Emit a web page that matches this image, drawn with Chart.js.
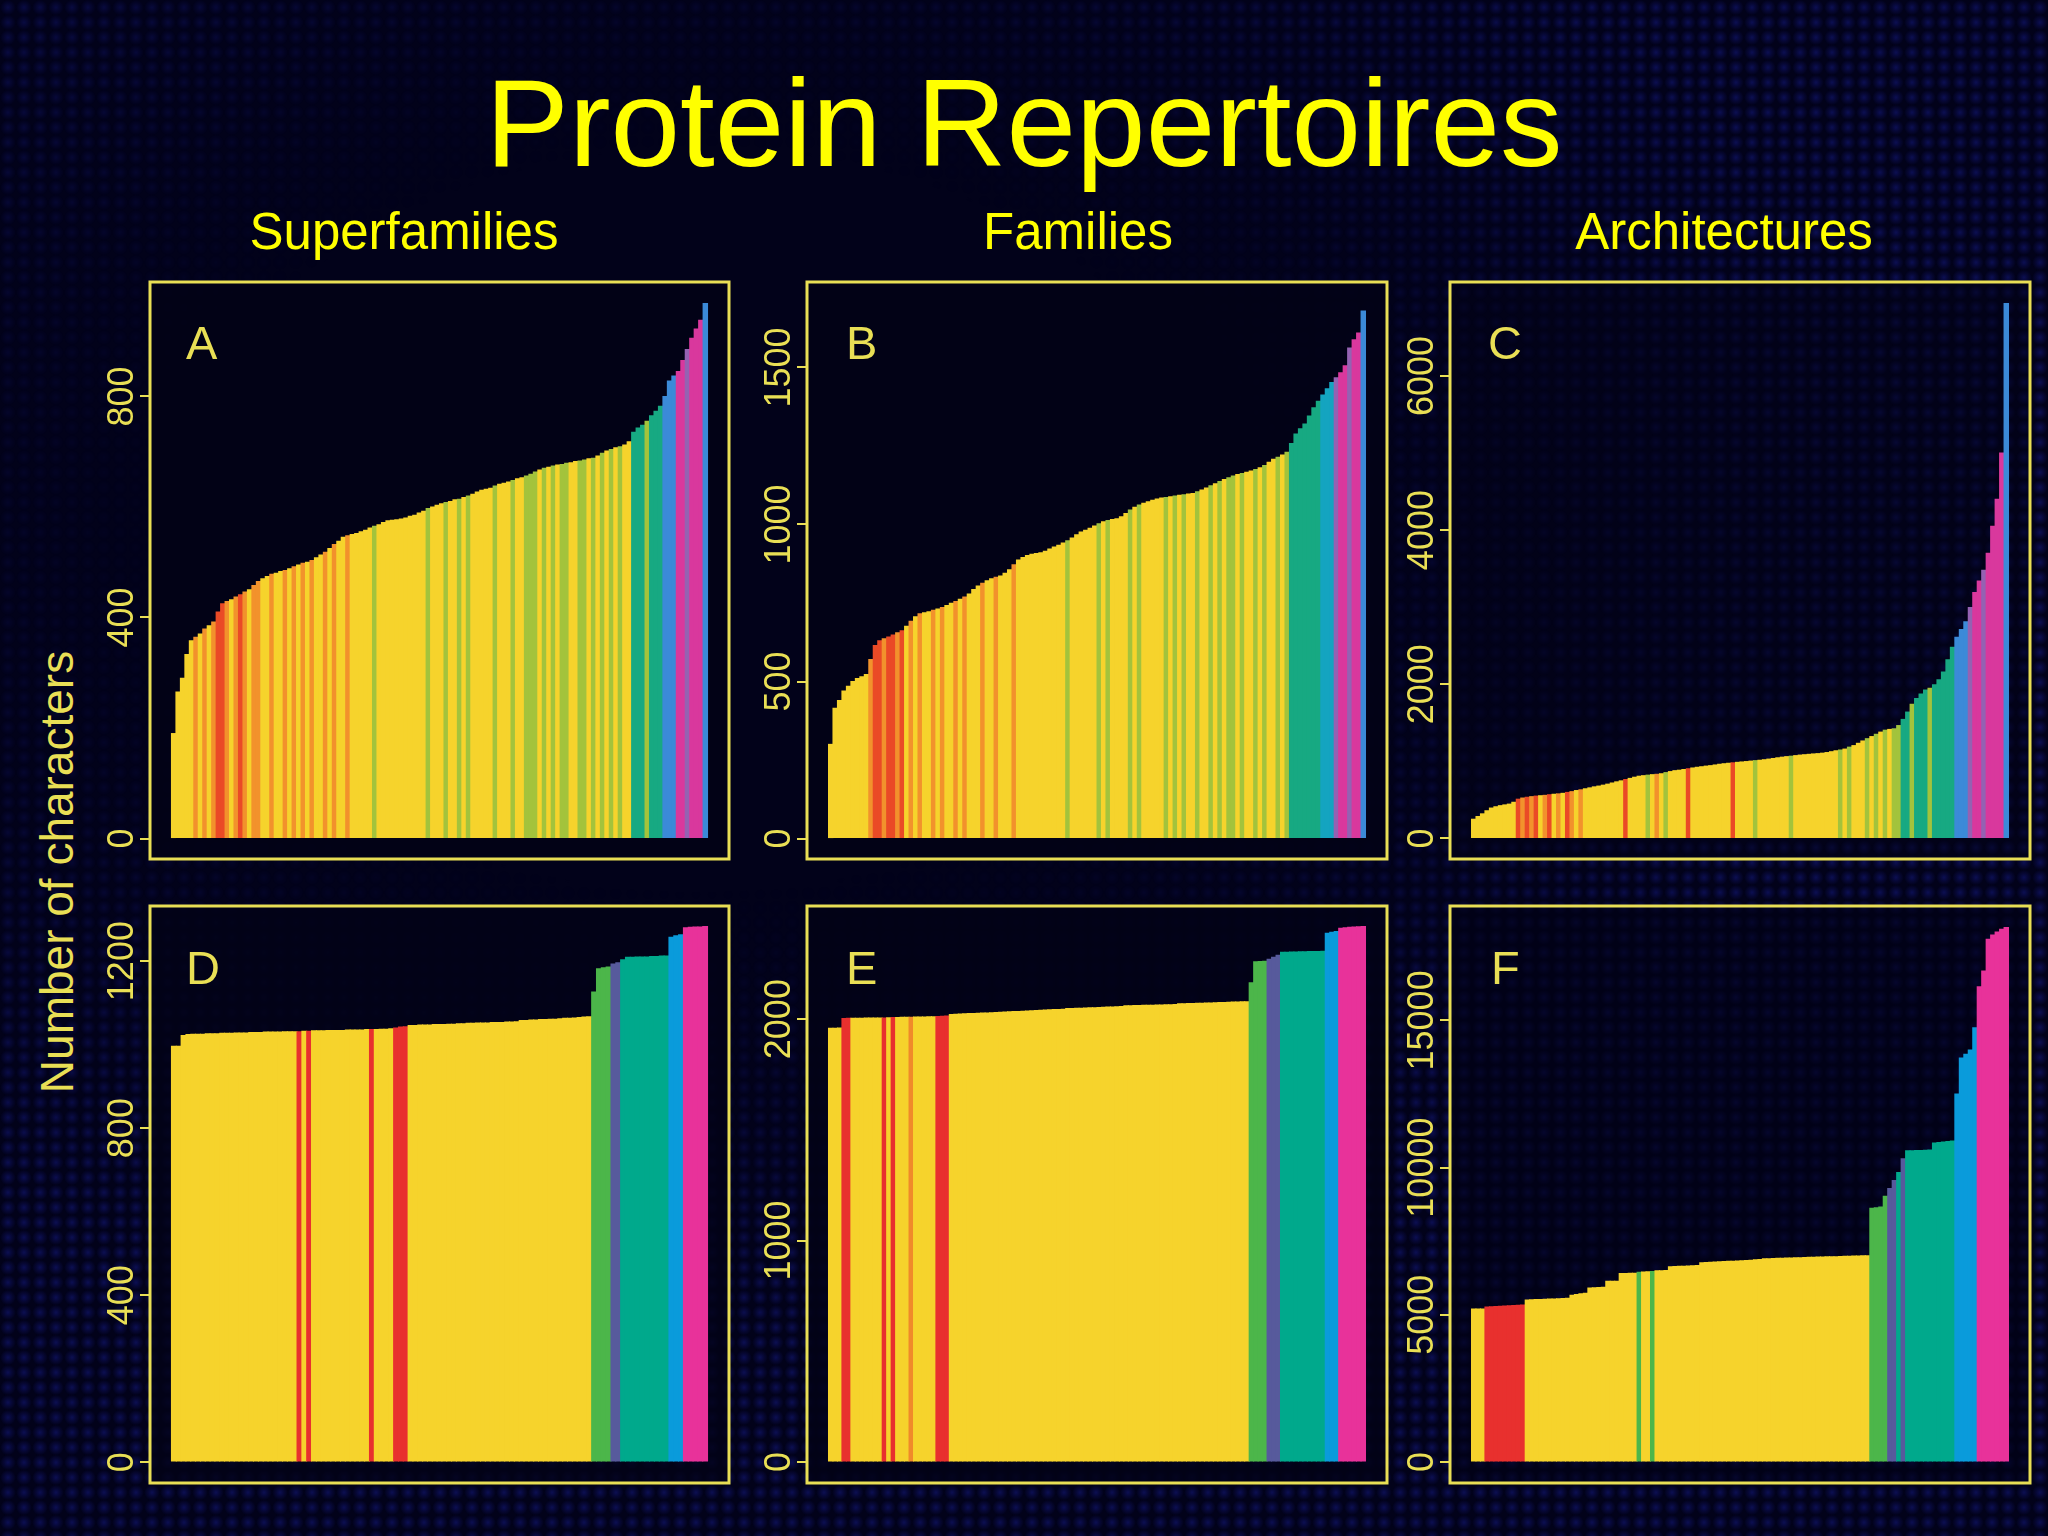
<!DOCTYPE html>
<html lang="en">
<head>
<meta charset="UTF-8">
<title>Protein Repertoires</title>
<script src="https://cdn.jsdelivr.net/npm/chart.js"></script>
<style>
  body {
    margin: 0;
    width: 2048px;
    height: 1536px;
    overflow: hidden;
    position: relative;
    background: #02021a;
    font-family: "Liberation Sans", Arial, sans-serif;
  }
  #bg {
    position: absolute;
    left: 0; top: 0;
    width: 2048px; height: 1536px;
    background-image: radial-gradient(circle, rgba(24,30,150,0.5) 0, rgba(24,30,150,0.18) 45%, rgba(0,0,0,0) 72%);
    background-size: 16px 15px;
    -webkit-mask-image: radial-gradient(ellipse 1150px 820px at 700px 520px, rgba(0,0,0,0) 45%, rgba(0,0,0,0.9) 100%);
    mask-image: radial-gradient(ellipse 1150px 820px at 700px 520px, rgba(0,0,0,0) 45%, rgba(0,0,0,0.9) 100%);
  }
  .txt { position: absolute; white-space: nowrap; line-height: 1; }
  canvas { position: absolute; }
</style>
</head>
<body>
<div id="bg"></div>
<script>
    // --- data ---
    // top row: one bar per genome, sorted; group codes give the bar colour
    const valuesA = [190,265,290,333,358,364,370,379,385,392,
        410,425,429,432,437,441,446,450,458,465,
        470,474,478,480,483,485,488,492,495,498,
        500,503,508,513,518,525,532,538,545,548,
        550,552,555,558,562,565,568,572,575,576,
        577,578,580,583,585,589,592,597,600,603,
        606,608,610,613,614,617,620,623,627,630,
        632,634,638,641,643,645,648,651,653,656,
        659,663,667,670,672,674,676,677,679,680,
        682,683,685,687,688,692,697,701,704,707,
        709,712,718,735,743,748,755,765,773,782,
        800,828,837,845,865,885,905,922,938,968];
    const groupsA = ('YYYYYOYOYO' + 'RROYOROYOO' + 'YYOYYOYOYO' + 'YOYYOYOYYO' +
        'YYYYYGYYYY' + 'YYYYYYYGYY' + 'YGYYGYGYYY' + 'YYGYYYGYYG' +
        'GGYGYGYGGY' + 'YGGYGYGYGY' + 'GYYTTTGTTT' + 'BBBMMPMMMB').split('');

    const valuesB = [300,415,440,470,485,500,510,515,522,570,
        615,630,636,642,648,655,662,676,692,706,
        716,719,722,727,731,736,742,749,755,762,
        769,779,793,804,813,821,827,832,836,845,
        856,872,887,895,901,905,908,910,915,922,
        928,934,941,948,957,967,976,982,988,995,
        1002,1009,1013,1016,1018,1025,1035,1046,1055,1062,
        1068,1072,1077,1081,1084,1086,1088,1091,1093,1095,
        1097,1099,1104,1110,1116,1123,1130,1137,1143,1149,
        1154,1159,1162,1166,1170,1175,1181,1188,1198,1208,
        1214,1221,1230,1258,1288,1305,1320,1345,1372,1392,
        1412,1432,1452,1467,1483,1505,1562,1588,1610,1680];
    const groupsB = ('YYYYYYYYYO' + 'RRORRORYOY' + 'OYYOYOYYOY' + 'OYYYOYYOYY' +
        'YOYYYYYYYY' + 'YYYGYYYYYY' + 'GYGYYYYGYG' + 'YYYYYGYGYG' +
        'YYGYYGYGYG' + 'GYGYYGYGYY' + 'GYGTTTTTTT' + 'CCCPMMPMMB').split('');

    const valuesC = [250,285,320,360,395,412,426,436,446,470,
        510,525,535,543,550,555,560,568,574,579,
        586,598,608,622,632,645,657,670,680,692,
        705,720,735,748,765,780,795,808,815,822,
        828,833,840,855,868,880,886,895,905,915,
        924,931,939,945,954,963,970,976,982,988,
        993,998,1004,1010,1015,1022,1030,1038,1047,1055,
        1062,1068,1075,1082,1087,1092,1097,1101,1107,1115,
        1126,1138,1148,1160,1185,1205,1235,1265,1295,1322,
        1352,1380,1405,1415,1423,1465,1545,1640,1740,1815,
        1875,1925,1950,1995,2060,2160,2320,2480,2610,2710,
        2810,2995,3190,3340,3480,3700,4050,4400,5000,6940];
    const groupsC = ('YYYYYYYYYY' + 'RORORYORYO' + 'YROYOYYYYY' + 'YYYYRYYYYG' +
        'YOYGYYYYRY' + 'YYYYYYYYRY' + 'YYYGYYYYYY' + 'YGYYYYYYYY' +
        'YYGYGYYYGY' + 'GYGYGGTTGT' + 'TTGTTTTTBB' + 'BPMMPMMMMB').split('');

    // bottom row: wide plateaus, groups given as runs [code, count]
    const valuesD = [996,996,1022,1024,1025,1025,1025,1026,1026,1026,
        1027,1027,1027,1028,1028,1028,1029,1029,1029,1030,
        1030,1030,1030,1031,1031,1031,1031,1032,1032,1033,
        1033,1033,1034,1034,1034,1034,1035,1035,1035,1035,
        1036,1036,1036,1037,1037,1038,1040,1042,1043,1046,
        1046,1047,1047,1047,1048,1048,1048,1049,1049,1050,
        1050,1051,1051,1052,1052,1052,1053,1053,1053,1054,
        1054,1055,1058,1058,1059,1059,1060,1060,1061,1061,
        1062,1063,1063,1064,1065,1066,1067,1126,1182,1184,
        1186,1193,1196,1203,1209,1209,1210,1210,1210,1211,
        1211,1212,1212,1257,1261,1263,1280,1281,1282,1282,
        1283];
    const runsD = [['Y',26],['R',1],['Y',1],['R',1],['Y',12],['R',1],['Y',4],['R',3],
        ['Y',38],['G',4],['P',2],['T',10],['B',3],['M',5]];

    const valuesE = [1959,1959,1960,2003,2004,2004,2004,2004,2005,2005,
        2005,2005,2005,2006,2007,2007,2008,2008,2009,2010,
        2010,2010,2011,2011,2012,2013,2014,2021,2022,2023,
        2024,2025,2026,2027,2028,2028,2029,2030,2031,2032,
        2033,2034,2035,2036,2037,2038,2039,2040,2041,2042,
        2043,2044,2045,2048,2048,2049,2049,2050,2051,2052,
        2053,2054,2055,2055,2056,2057,2061,2061,2062,2062,
        2063,2063,2063,2064,2064,2065,2065,2066,2070,2070,
        2071,2071,2072,2072,2073,2073,2074,2075,2075,2076,
        2077,2077,2078,2079,2164,2259,2260,2262,2271,2280,
        2289,2302,2302,2303,2303,2304,2304,2305,2306,2306,
        2307,2388,2392,2396,2411,2413,2415,2416,2417,2418];
    const runsE = [['Y',3],['R',2],['Y',7],['R',1],['Y',1],['R',1],['Y',3],['O',1],['Y',5],
        ['R',3],['Y',67],['G',4],['P',3],['T',10],['B',3],['M',6]];

    const valuesF = [5197,5197,5197,5264,5272,5280,5290,5300,5310,5318,
        5325,5331,5506,5510,5516,5522,5528,5534,5540,5546,
        5552,5560,5667,5690,5712,5734,5909,5918,5927,5936,
        6137,6137,6140,6406,6406,6410,6415,6446,6455,6465,
        6473,6500,6500,6505,6634,6640,6646,6652,6660,6667,
        6674,6768,6775,6783,6791,6799,6807,6815,6823,6831,
        6840,6848,6856,6866,6876,6903,6907,6912,6917,6922,
        6927,6932,6937,6941,6946,6951,6955,6960,6964,6968,
        6972,6976,6981,6986,6991,6996,7000,7005,7010,8621,
        8640,8660,9024,9293,9561,9830,10300,10569,10572,10578,
        10584,10590,10595,10837,10850,10866,10885,10904,12500,13724,
        13850,13993,14750,16142,16679,17753,17900,18000,18100,18156];
    const runsF = [['Y',3],['R',9],['Y',25],['G',1],['Y',2],['G',1],['Y',48],['G',4],
        ['P',2],['T',1],['P',1],['T',11],['B',5],['M',7]];

    const ticksA = [0, 400, 800];
    const ticksB = [0, 500, 1000, 1500];
    const ticksC = [0, 2000, 4000, 6000];
    const ticksD = [0, 400, 800, 1200];
    const ticksE = [0, 1000, 2000];
    const ticksF = [0, 5000, 10000, 15000];

    const columnTitles = ['Superfamilies', 'Families', 'Architectures'];
    const panelLetters = ['A', 'B', 'C', 'D', 'E', 'F'];

    // --- styling ---
    const AXIS = '#e9df55';
    const topPalette = {Y: '#f6d32c', O: '#f2922c', R: '#ea4a26', G: '#a3c33c', T: '#17a982',
        C: '#14a4c0', B: '#3b8ad8', P: '#9462b2', M: '#d9389d'};
    const bottomPalette = {Y: '#f6d32c', O: '#f08a2a', R: '#e8302e', G: '#4cb64a', T: '#00a98c',
        B: '#0a9bdb', P: '#575a9c', M: '#e8329a'};

    function expandRuns(runs) {
        const out = [];
        runs.forEach(([code, n]) => { for (let k = 0; k < n; k++) out.push(code); });
        return out;
    }

    function addText(str, x, baseline, size, color, center) {
        const d = document.createElement('div');
        d.className = 'txt';
        d.textContent = str;
        d.style.fontSize = size + 'px';
        d.style.color = color;
        d.style.top = (baseline - 0.8465 * size) + 'px';
        d.style.left = x + 'px';
        if (center) d.style.transform = 'translateX(-50%)';
        document.body.appendChild(d);
    }

    addText('Protein Repertoires', 1024, 166, 125, '#ffff00', true);
    addText(columnTitles[0], 404, 249, 51, '#ffff00', true);
    addText(columnTitles[1], 1078, 249, 51, '#ffff00', true);
    addText(columnTitles[2], 1724, 249, 51, '#ffff00', true);

    const ylab = document.createElement('div');
    ylab.className = 'txt';
    ylab.textContent = 'Number of characters';
    ylab.style.fontSize = '46px';
    ylab.style.color = AXIS;
    ylab.style.left = '57px';
    ylab.style.top = '872px';
    ylab.style.transform = 'translate(-50%,-50%) rotate(-90deg)';
    document.body.appendChild(ylab);

    // box and dark plot background
    const boxPlugin = {
        id: 'box',
        beforeDraw(chart, args, opts) {
            const {ctx, chartArea: a} = chart;
            ctx.save();
            ctx.fillStyle = opts.fill;
            ctx.fillRect(a.left, a.top, a.right - a.left, a.bottom - a.top);
            ctx.restore();
        },
        afterDraw(chart) {
            const {ctx, chartArea: a} = chart;
            ctx.save();
            ctx.strokeStyle = AXIS;
            ctx.lineWidth = 3;
            ctx.strokeRect(a.left, a.top, a.right - a.left, a.bottom - a.top);
            ctx.restore();
        }
    };

    const measure = document.createElement('canvas').getContext('2d');
    measure.font = '36px "Liberation Sans"';

    const AXIS_W = 100, PAD = 20;

    const panels = [
        {values: valuesA, groups: groupsA, pal: topPalette, ticks: ticksA, min: -37, max: 1007,
            box: [150, 282, 729, 859], letter: [186, 359], fill: 'rgba(2,2,22,0.9)'},
        {values: valuesB, groups: groupsB, pal: topPalette, ticks: ticksB, min: -65, max: 1772,
            box: [807, 282, 1387, 859], letter: [846, 359], fill: 'rgba(2,2,22,0.9)'},
        {values: valuesC, groups: groupsC, pal: topPalette, ticks: ticksC, min: -266, max: 7218,
            box: [1450, 282, 2030, 859], letter: [1488, 359], fill: 'rgba(2,2,22,0.5)'},
        {values: valuesD, groups: expandRuns(runsD), pal: bottomPalette, ticks: ticksD, min: -50, max: 1332,
            box: [150, 906, 729, 1483], letter: [186, 984], fill: 'rgba(2,2,22,0.8)'},
        {values: valuesE, groups: expandRuns(runsE), pal: bottomPalette, ticks: ticksE, min: -95, max: 2511,
            box: [807, 906, 1387, 1483], letter: [846, 984], fill: 'rgba(2,2,22,0.85)'},
        {values: valuesF, groups: expandRuns(runsF), pal: bottomPalette, ticks: ticksF, min: -713, max: 18886,
            box: [1450, 906, 2030, 1483], letter: [1491, 984], fill: 'rgba(2,2,22,0.6)'}
    ];

    panels.forEach((p, k) => {
        const [x0, y0, x1, y1] = p.box;
        const cv = document.createElement('canvas');
        cv.width = AXIS_W + (x1 - x0) + PAD;
        cv.height = (y1 - y0) + 2 * PAD;
        cv.style.left = (x0 - AXIS_W) + 'px';
        cv.style.top = (y0 - PAD) + 'px';
        document.body.appendChild(cv);

        const n = p.values.length;
        const widest = Math.max(...p.ticks.map(t => measure.measureText(String(t)).width));
        const tickPad = 27 - 10 - widest / 2;

        new Chart(cv.getContext('2d'), {
            type: 'bar',
            data: {
                datasets: [{
                    data: p.values.map((v, i) => ({x: i, y: v})),
                    backgroundColor: p.groups.map(g => p.pal[g]),
                    borderWidth: 0,
                    barPercentage: 1,
                    categoryPercentage: 1,
                    inflateAmount: 0.5
                }]
            },
            options: {
                responsive: false,
                animation: false,
                devicePixelRatio: 1,
                events: [],
                layout: {padding: {top: PAD, right: PAD, bottom: PAD, left: 0}},
                plugins: {
                    legend: {display: false},
                    tooltip: {enabled: false},
                    box: {fill: p.fill}
                },
                scales: {
                    x: {
                        type: 'linear',
                        display: false,
                        offset: false,
                        min: -0.5 - 0.04 * n,
                        max: n - 0.5 + 0.04 * n
                    },
                    y: {
                        min: p.min,
                        max: p.max,
                        afterBuildTicks: s => { s.ticks = p.ticks.map(v => ({value: v})); },
                        afterFit: s => { s.width = AXIS_W; },
                        border: {display: false},
                        grid: {display: true, drawOnChartArea: false, drawTicks: true,
                            tickLength: 10, color: AXIS, lineWidth: 2},
                        ticks: {
                            color: AXIS,
                            font: {family: 'Liberation Sans', size: 36},
                            minRotation: 90,
                            maxRotation: 90,
                            crossAlign: 'center',
                            padding: tickPad,
                            autoSkip: false,
                            callback: v => String(v)
                        }
                    }
                }
            },
            plugins: [boxPlugin]
        });

        addText(panelLetters[k], p.letter[0], p.letter[1], 47, AXIS, false);
    });
</script>
</body>
</html>
